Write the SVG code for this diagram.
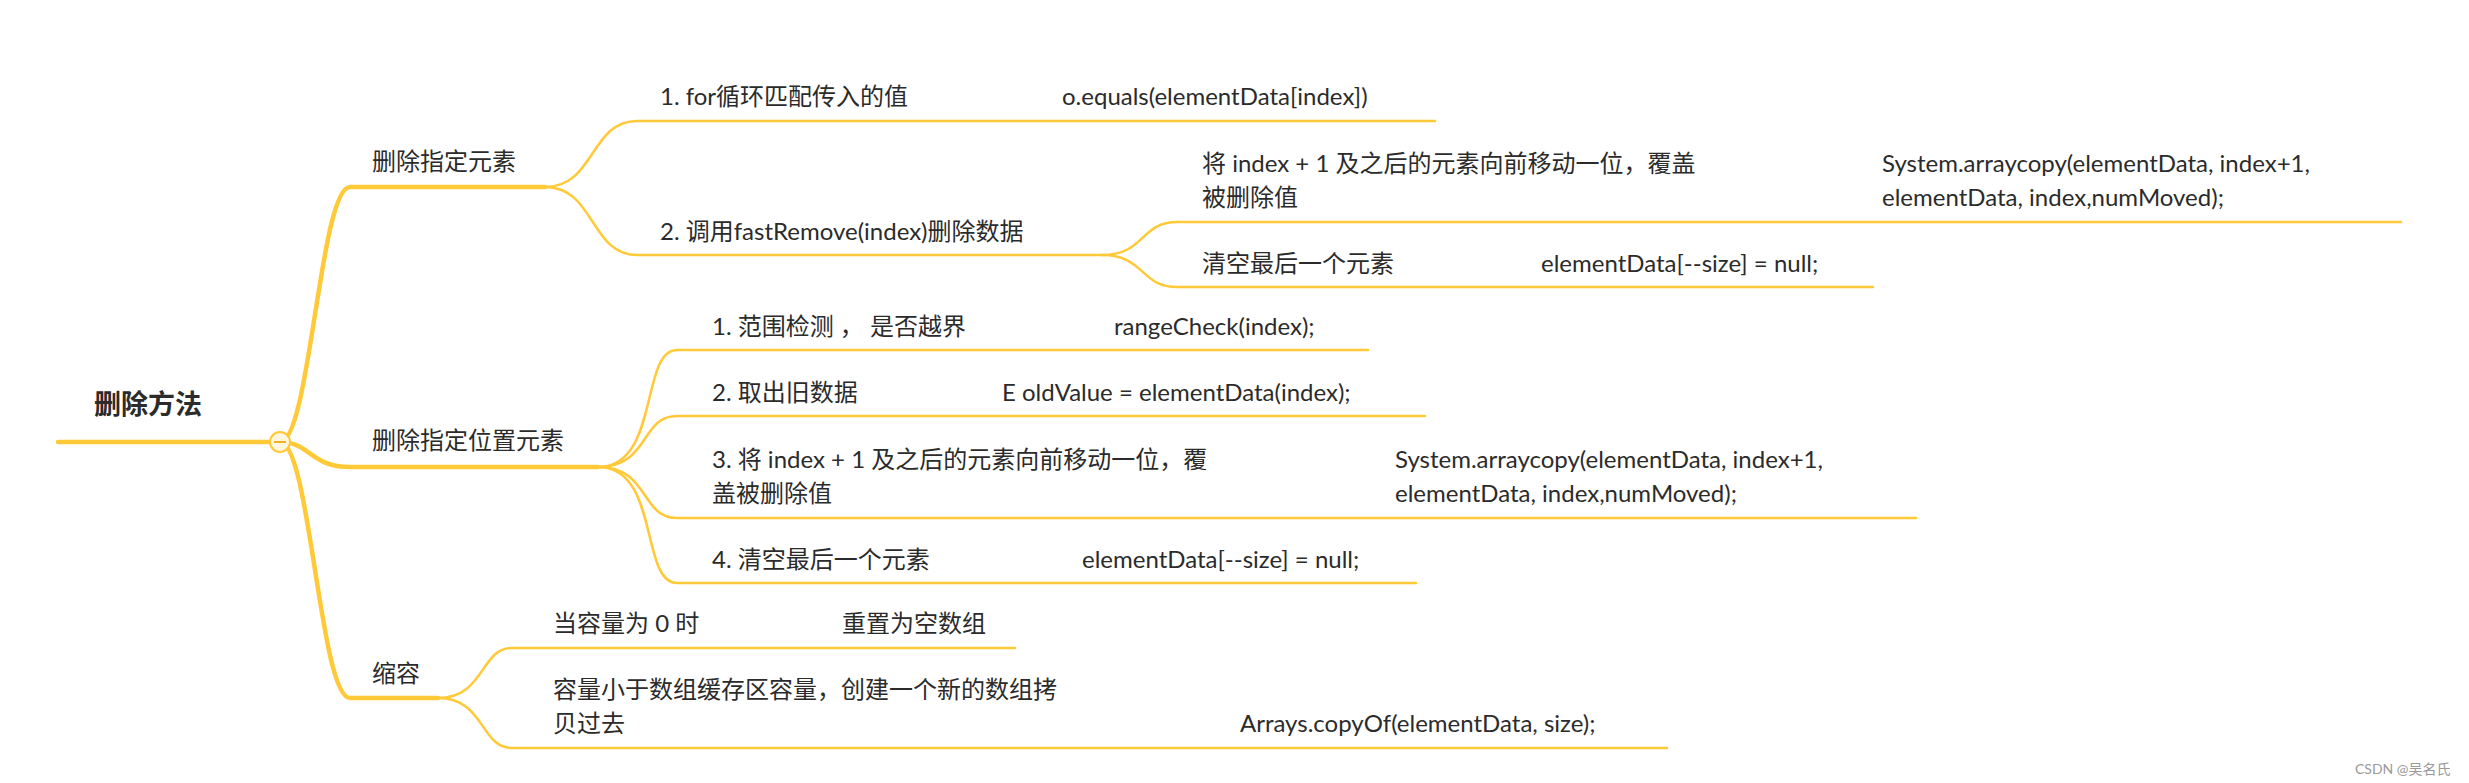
<svg xmlns="http://www.w3.org/2000/svg" width="2469" height="783" viewBox="0 0 2469 783">
<style>
text{font-family:Lato,"Noto Sans CJK SC",sans-serif;font-size:24px;fill:#2b2b2b}
.root{font-size:27px;font-weight:bold}
.l{fill:none;stroke:#FFC938;stroke-width:2.5;stroke-linecap:round}
.m{fill:none;stroke:#FFC938;stroke-width:4.5;stroke-linecap:round}
.wm{font-size:14px;fill:#999}
</style>
<rect width="2469" height="783" fill="#fff"/>
<g id="connectors">
<path class="m" d="M58,442 H270"/>
<path class="m" d="M280,442 C310,442 320,187 350,187 H545"/>
<path class="m" d="M280,442 C310,442 310,467 350,467 H598"/>
<path class="m" d="M280,442 C310,442 320,698 350,698 H438"/>
<path class="l" d="M545,187 C595,187 590,121 637,121 H1435"/>
<path class="l" d="M545,187 C595,187 590,255 637,255 H1102"/>
<path class="l" d="M1102,255 C1145,255 1140,222 1177,222 H2401"/>
<path class="l" d="M1102,255 C1145,255 1140,287 1177,287 H1873"/>
<path class="l" d="M598,467 C660,467 640,350 677,350 H1368"/>
<path class="l" d="M598,467 C650,467 640,416 677,416 H1425"/>
<path class="l" d="M598,467 C650,467 640,518 677,518 H1916"/>
<path class="l" d="M598,467 C660,467 640,583 677,583 H1416"/>
<path class="l" d="M438,698 C485,698 480,648 512,648 H1015"/>
<path class="l" d="M438,698 C485,698 480,748 512,748 H1667"/>
</g>
<g id="root"><circle cx="280" cy="442" r="10" fill="#fff7df" stroke="#FFC938" stroke-width="2"/><path d="M274,442 H286" stroke="#f0b020" stroke-width="2"/><text class="root" x="94" y="414">删除方法</text></g>
<g id="b1"><text x="372" y="170">删除指定元素</text></g>
<g id="b1s1"><text x="660" y="105">1. for循环匹配传入的值</text><text x="1062" y="105">o.equals(elementData[index])</text></g>
<g id="b1s2"><text x="660" y="240">2. 调用fastRemove(index)删除数据</text></g>
<g id="b1s2a"><text x="1202" y="172">将 index + 1 及之后的元素向前移动一位，覆盖</text><text x="1202" y="206">被删除值</text><text x="1882" y="172">System.arraycopy(elementData, index+1,</text><text x="1882" y="206">elementData, index,numMoved);</text></g>
<g id="b1s2b"><text x="1202" y="272">清空最后一个元素</text><text x="1541" y="272">elementData[--size] = null;</text></g>
<g id="b2"><text x="372" y="449">删除指定位置元素</text></g>
<g id="b2s1"><text x="712" y="335">1. 范围检测 ， 是否越界</text><text x="1114" y="335">rangeCheck(index);</text></g>
<g id="b2s2"><text x="712" y="401">2. 取出旧数据</text><text x="1002" y="401">E oldValue = elementData(index);</text></g>
<g id="b2s3"><text x="712" y="468">3. 将 index + 1 及之后的元素向前移动一位，覆</text><text x="712" y="502">盖被删除值</text><text x="1395" y="468">System.arraycopy(elementData, index+1,</text><text x="1395" y="502">elementData, index,numMoved);</text></g>
<g id="b2s4"><text x="712" y="568">4. 清空最后一个元素</text><text x="1082" y="568">elementData[--size] = null;</text></g>
<g id="b3"><text x="372" y="682">缩容</text></g>
<g id="b3s1"><text x="553" y="632">当容量为 0 时</text><text x="842" y="632">重置为空数组</text></g>
<g id="b3s2"><text x="553" y="698">容量小于数组缓存区容量，创建一个新的数组拷</text><text x="553" y="732">贝过去</text><text x="1240" y="732">Arrays.copyOf(elementData, size);</text></g>
<text class="wm" x="2355" y="774">CSDN @吴名氏</text>
</svg>
